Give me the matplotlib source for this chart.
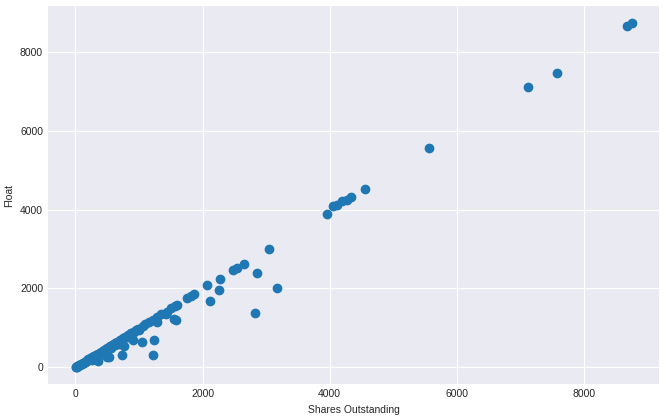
import matplotlib
matplotlib.use('Agg')
import matplotlib.pyplot as plt

# 発行済株式数と浮動株 (値は画像から読み取り)
shares_outstanding = [
    8750, 8680, 7580, 7120, 5560, 4560, 4330, 4270, 4200, 4120, 4060, 3960,
    3170, 3050, 2850, 2830, 2650, 2550, 2480, 2270, 2260, 2120, 2070, 1870,
    1820, 1760, 1600, 1560, 1580, 1550, 1500, 1440, 1420, 1350, 1290, 1280,
    1220, 1230, 1220, 1150, 1100, 1060, 1040, 1000, 980, 950, 920, 900, 880,
    870, 850, 820, 800, 780, 760, 750, 740, 720, 700, 680, 650, 630, 600,
    580, 560, 550, 530, 510, 500, 490, 480, 460, 450, 430, 420, 400, 380,
    360, 350, 340, 320, 300, 290, 280, 260, 250, 240, 220, 200, 180, 170,
    150, 130, 120, 100, 80, 70, 50, 40, 30, 20, 10, 5, 350, 420, 480, 560,
    620, 680, 820, 880, 300, 260,
]
float_shares = [
    8720, 8650, 7470, 7110, 5550, 4520, 4310, 4250, 4230, 4120, 4080, 3890,
    2000, 3000, 2380, 1390, 2620, 2520, 2470, 2250, 1950, 1670, 2080, 1870,
    1820, 1750, 1590, 1560, 1200, 1220, 1500, 1400, 1350, 1340, 1280, 1150,
    1200, 690, 300, 1150, 1100, 1060, 650, 950, 970, 950, 900, 700, 860,
    860, 830, 810, 780, 760, 550, 740, 300, 700, 700, 600, 640, 620, 600,
    560, 540, 530, 250, 500, 250, 480, 470, 450, 440, 420, 400, 380, 370,
    350, 340, 320, 310, 280, 280, 270, 250, 240, 230, 210, 200, 170, 160,
    140, 120, 110, 95, 75, 65, 48, 38, 28, 18, 10, 5, 150, 350, 420, 500,
    560, 620, 760, 780, 200, 180,
]

plt.style.use('seaborn-v0_8-darkgrid')
fig, ax = plt.subplots(figsize=(6.66, 4.2), dpi=100)
ax.scatter(shares_outstanding, float_shares, color='#1f77b4', s=36)
ax.set_xlabel('Shares Outstanding', fontsize=7.5)
ax.set_ylabel('Float', fontsize=7.5)
ax.tick_params(labelsize=7.5)
plt.subplots_adjust(left=0.072, right=0.99, top=0.985, bottom=0.085)
plt.savefig('out.png')
